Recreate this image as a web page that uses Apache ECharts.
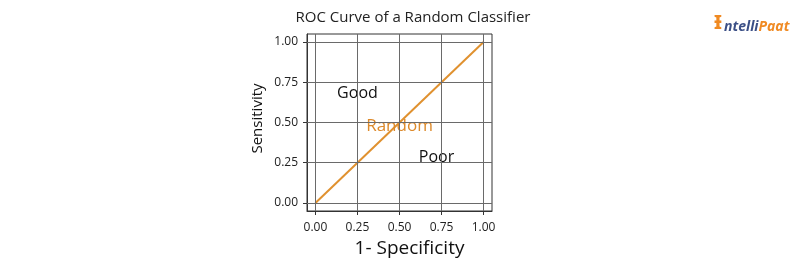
<!DOCTYPE html>
<html><head><meta charset="utf-8">
<script src="https://cdn.jsdelivr.net/npm/echarts@6/dist/echarts.min.js"></script>
<style>html,body{margin:0;padding:0;background:#fff}#c{width:800px;height:260px}</style>
</head><body><div id="c"></div>
<script>
const title = 'ROC Curve of a Random Classifier';
const xName = '1- Specificity';
const yName = 'Sensitivity';
const tickValues = [0, 0.25, 0.5, 0.75, 1];
const randomLineX = [0, 1];
const randomLineY = [0, 1];
const regionLabels = ['Good', 'Random', 'Poor'];
const regionX = [0.25, 0.5, 0.72];
const regionY = [0.68, 0.48, 0.28];
const regionColors = ['#111111', '#dd8a2b', '#111111'];
const regionSizes = [16, 17, 16];

const font = '"Open Sans", "Noto Sans", sans-serif';
const chart = echarts.init(document.getElementById('c'), null, {renderer: 'canvas'});
const gridLineStyle = {color: '#6a6a6a', width: 1, type: 'solid', opacity: 1};
const fmt = v => Number(v).toFixed(2);

chart.setOption({
  animation: false,
  backgroundColor: '#ffffff',
  title: {text: title, left: 408, top: 5, textAlign: 'center',
    textStyle: {fontFamily: font, fontSize: 15, fontWeight: 'normal', color: '#222'}},
  grid: {left: 307, top: 34, width: 185, height: 177, show: true, borderColor: '#333', borderWidth: 1,
    backgroundColor: 'transparent', containLabel: false, outerBoundsMode: 'none'},
  xAxis: {type: 'value', min: -0.05, max: 1.05,
    name: xName, nameLocation: 'middle', nameGap: 25,
    nameTextStyle: {fontFamily: font, fontSize: 19, color: '#111', padding: [0, 0, 0, 20]},
    axisLine: {show: true, onZero: false, lineStyle: {color: '#333'}},
    axisTick: {show: true, length: 4, customValues: tickValues, lineStyle: {color: '#333'}},
    axisLabel: {customValues: tickValues, formatter: fmt, fontFamily: font, fontSize: 12, color: '#222', margin: 11},
    splitLine: {show: false}},
  yAxis: {type: 'value', min: -0.05, max: 1.05,
    name: yName, nameLocation: 'middle', nameGap: 42, nameRotate: 90,
    nameTextStyle: {fontFamily: font, fontSize: 15, color: '#111', padding: [0, 0, 0, 8]},
    axisLine: {show: true, onZero: false, lineStyle: {color: '#333'}},
    axisTick: {show: true, length: 4, customValues: tickValues, lineStyle: {color: '#333'}},
    axisLabel: {customValues: tickValues, formatter: fmt, fontFamily: font, fontSize: 12, color: '#222', margin: 9},
    splitLine: {show: false}},
  series: [
    {type: 'line', silent: true, symbol: 'none', z: 1,
      data: [],
      markLine: {silent: true, symbol: 'none', label: {show: false}, lineStyle: gridLineStyle, animation: false,
        emphasis: {disabled: true},
        data: tickValues.map(v => ({xAxis: v})).concat(tickValues.map(v => ({yAxis: v})))}},
    {type: 'line', symbol: 'none', z: 3,
      data: randomLineX.map((x, i) => [x, randomLineY[i]]),
      lineStyle: {color: '#e0912f', width: 2}},
    {type: 'scatter', symbolSize: 0, z: 4, silent: true,
      itemStyle: {opacity: 1},
      data: regionLabels.map((t, i) => ({value: [regionX[i], regionY[i]],
        label: {show: true, position: 'inside', formatter: t, fontFamily: font, fontSize: regionSizes[i], color: regionColors[i], opacity: 1}}))}
  ],
  graphic: [
    {type: 'text', left: 714, top: 13, style: {text: 'Ɨ', fontFamily: font, fontSize: 20, fontWeight: 'bold', fill: '#f08a22'}},
    {type: 'text', left: 724, top: 20, style: {text: '{a|ntelli}{b|Paat}', rich: {
      a: {fontFamily: font, fontSize: 14, fontWeight: 'bold', fontStyle: 'italic', fill: '#3b4f86', color: '#3b4f86'},
      b: {fontFamily: font, fontSize: 14, fontWeight: 'bold', fontStyle: 'italic', fill: '#f08a22', color: '#f08a22'}}}}
  ]
});
</script></body></html>
